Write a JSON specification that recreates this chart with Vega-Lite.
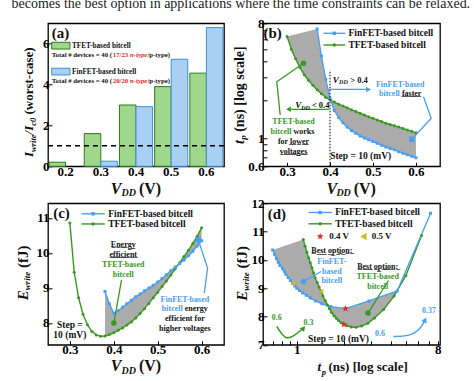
{
  "$schema": "https://vega.github.io/schema/vega-lite/v6.json",
  "background": "white",
  "padding": {"left": 10, "top": -3.7, "right": 0, "bottom": 4},
  "columns": 2,
  "spacing": {"row": 37, "column": 39},
  "bounds": "flush",
  "config": {
    "font": "Liberation Serif",
    "view": {"stroke": "#000", "strokeWidth": 1.3},
    "legend": {"disable": true},
    "axis": {"labelFont": "Liberation Serif", "labelFontSize": 13, "labelFontWeight": "bold", "labelColor": "#000", "tickColor": "#000", "tickSize": -4, "tickWidth": 1, "domain": false, "grid": false, "labelPadding": 3},
    "text": {"font": "Liberation Serif", "fontWeight": "bold"}
  },
  "datasets": {
    "bars": [
      {"V": "0.2", "cell": "TFET", "ratio": 0.2}, {"V": "0.3", "cell": "TFET", "ratio": 1.6}, {"V": "0.4", "cell": "TFET", "ratio": 3.0}, {"V": "0.5", "cell": "TFET", "ratio": 3.9}, {"V": "0.6", "cell": "TFET", "ratio": 4.56},
      {"V": "0.3", "cell": "FinFET", "ratio": 0.25}, {"V": "0.4", "cell": "FinFET", "ratio": 2.92}, {"V": "0.5", "cell": "FinFET", "ratio": 5.24}, {"V": "0.6", "cell": "FinFET", "ratio": 6.79}
    ],
    "cells": [
      {"cell": "TFET", "V": 0.3, "tp": 6.3, "E": 10.86}, {"cell": "TFET", "V": 0.31, "tp": 5.0, "E": 9.45}, {"cell": "TFET", "V": 0.32, "tp": 4.2, "E": 8.72}, {"cell": "TFET", "V": 0.33, "tp": 3.6, "E": 8.25}, {"cell": "TFET", "V": 0.34, "tp": 3.15, "E": 7.95}, {"cell": "TFET", "V": 0.35, "tp": 2.85, "E": 7.76}, {"cell": "TFET", "V": 0.36, "tp": 2.6, "E": 7.66}, {"cell": "TFET", "V": 0.37, "tp": 2.4, "E": 7.62}, {"cell": "TFET", "V": 0.38, "tp": 2.23, "E": 7.63}, {"cell": "TFET", "V": 0.39, "tp": 2.1, "E": 7.67}, {"cell": "TFET", "V": 0.4, "tp": 2.0, "E": 7.72},
      {"cell": "TFET", "V": 0.41, "tp": 1.92, "E": 7.79}, {"cell": "TFET", "V": 0.42, "tp": 1.85, "E": 7.86}, {"cell": "TFET", "V": 0.43, "tp": 1.79, "E": 7.94}, {"cell": "TFET", "V": 0.44, "tp": 1.73, "E": 8.03}, {"cell": "TFET", "V": 0.45, "tp": 1.67, "E": 8.14}, {"cell": "TFET", "V": 0.46, "tp": 1.62, "E": 8.27}, {"cell": "TFET", "V": 0.47, "tp": 1.57, "E": 8.41}, {"cell": "TFET", "V": 0.48, "tp": 1.52, "E": 8.56}, {"cell": "TFET", "V": 0.49, "tp": 1.47, "E": 8.72}, {"cell": "TFET", "V": 0.5, "tp": 1.43, "E": 8.88},
      {"cell": "TFET", "V": 0.51, "tp": 1.39, "E": 9.04}, {"cell": "TFET", "V": 0.52, "tp": 1.35, "E": 9.2}, {"cell": "TFET", "V": 0.53, "tp": 1.31, "E": 9.37}, {"cell": "TFET", "V": 0.54, "tp": 1.28, "E": 9.55}, {"cell": "TFET", "V": 0.55, "tp": 1.25, "E": 9.72}, {"cell": "TFET", "V": 0.56, "tp": 1.22, "E": 9.9}, {"cell": "TFET", "V": 0.57, "tp": 1.19, "E": 10.08}, {"cell": "TFET", "V": 0.58, "tp": 1.16, "E": 10.27}, {"cell": "TFET", "V": 0.59, "tp": 1.13, "E": 10.48}, {"cell": "TFET", "V": 0.6, "tp": 1.1, "E": 10.72},
      {"cell": "FinFET", "V": 0.37, "tp": 7.2, "E": 11.65}, {"cell": "FinFET", "V": 0.38, "tp": 4.4, "E": 8.9}, {"cell": "FinFET", "V": 0.39, "tp": 2.9, "E": 8.55}, {"cell": "FinFET", "V": 0.4, "tp": 2.05, "E": 8.28}, {"cell": "FinFET", "V": 0.41, "tp": 1.65, "E": 8.35}, {"cell": "FinFET", "V": 0.42, "tp": 1.45, "E": 8.45}, {"cell": "FinFET", "V": 0.43, "tp": 1.32, "E": 8.55}, {"cell": "FinFET", "V": 0.44, "tp": 1.22, "E": 8.65}, {"cell": "FinFET", "V": 0.45, "tp": 1.15, "E": 8.75}, {"cell": "FinFET", "V": 0.46, "tp": 1.09, "E": 8.83},
      {"cell": "FinFET", "V": 0.47, "tp": 1.04, "E": 8.92}, {"cell": "FinFET", "V": 0.48, "tp": 1.0, "E": 9.0}, {"cell": "FinFET", "V": 0.49, "tp": 0.97, "E": 9.08}, {"cell": "FinFET", "V": 0.5, "tp": 0.94, "E": 9.17}, {"cell": "FinFET", "V": 0.51, "tp": 0.91, "E": 9.27}, {"cell": "FinFET", "V": 0.52, "tp": 0.88, "E": 9.38}, {"cell": "FinFET", "V": 0.53, "tp": 0.85, "E": 9.49}, {"cell": "FinFET", "V": 0.54, "tp": 0.83, "E": 9.6}, {"cell": "FinFET", "V": 0.55, "tp": 0.81, "E": 9.7}, {"cell": "FinFET", "V": 0.56, "tp": 0.78, "E": 9.8},
      {"cell": "FinFET", "V": 0.57, "tp": 0.76, "E": 9.92}, {"cell": "FinFET", "V": 0.58, "tp": 0.74, "E": 10.05}, {"cell": "FinFET", "V": 0.59, "tp": 0.72, "E": 10.2}, {"cell": "FinFET", "V": 0.6, "tp": 0.7, "E": 10.35}
    ],
    "ann_a": [
      {"t": "(a)", "x": 0.1605, "y": 6.51, "role": "panel", "tone": "note", "k": "l"},
      {"t": "TFET-based bitcell", "x": 0.2182, "y": 5.9, "role": "sm", "tone": "note", "k": "l"},
      {"t": "Total # devices = 40 (", "x": 0.1605, "y": 5.45, "role": "tiny", "tone": "note", "k": "l"},
      {"t": "17/23", "x": 0.3341, "y": 5.45, "role": "tiny", "tone": "red", "k": "l"},
      {"t": "n-type", "x": 0.383, "y": 5.45, "role": "tiny", "tone": "red", "k": "li"},
      {"t": "/p-type)", "x": 0.4324, "y": 5.45, "role": "tiny", "tone": "note", "k": "l"},
      {"t": "FinFET-based bitcell", "x": 0.2182, "y": 4.63, "role": "sm", "tone": "note", "k": "l"},
      {"t": "Total # devices = 40 (", "x": 0.1605, "y": 4.18, "role": "tiny", "tone": "note", "k": "l"},
      {"t": "20/20", "x": 0.3341, "y": 4.18, "role": "tiny", "tone": "red", "k": "l"},
      {"t": "n-type", "x": 0.383, "y": 4.18, "role": "tiny", "tone": "red", "k": "li"},
      {"t": "/p-type)", "x": 0.4324, "y": 4.18, "role": "tiny", "tone": "note", "k": "l"},
      {"t": "V", "x": 0.3284, "y": -1.087, "role": "ttl", "tone": "note", "k": "li"},
      {"t": "DD", "x": 0.3588, "y": -1.307, "role": "sub", "tone": "note", "k": "li"},
      {"t": "(V)", "x": 0.4082, "y": -1.087, "role": "ttl", "tone": "note", "k": "l"},
      {"t": "I", "x": 0.0946, "y": 0.455, "role": "ttlS", "tone": "note", "k": "ri"},
      {"t": "write", "x": 0.106, "y": 0.705, "role": "subS", "tone": "note", "k": "ri"},
      {"t": "/I", "x": 0.0946, "y": 1.561, "role": "ttlS", "tone": "note", "k": "ri"},
      {"t": "c0", "x": 0.106, "y": 1.987, "role": "subS", "tone": "note", "k": "ri"},
      {"t": "(worst-case)", "x": 0.0946, "y": 2.535, "role": "ttlS", "tone": "note", "k": "r"}
    ],
    "rects_a": [
      {"cell": "TFET", "x1": 0.1605, "x2": 0.2125, "y1": 6.07, "y2": 5.74},
      {"cell": "FinFET", "x1": 0.1605, "x2": 0.2125, "y1": 4.8, "y2": 4.47}
    ],
    "ann_b": [
      {"t": "(b)", "x": 0.2452, "y": 6.67, "role": "panel", "tone": "note", "k": "l"},
      {"t": "FinFET-based bitcell", "x": 0.443, "y": 6.67, "role": "leg", "tone": "note", "k": "l"},
      {"t": "TFET-based bitcell", "x": 0.443, "y": 5.4, "role": "leg", "tone": "note", "k": "l"},
      {"t": "V", "x": 0.4065, "y": 2.86, "role": "vd", "tone": "note", "k": "li"},
      {"t": "DD", "x": 0.4211, "y": 2.74, "role": "vdsub", "tone": "note", "k": "li"},
      {"t": "> 0.4", "x": 0.447, "y": 2.86, "role": "lab", "tone": "note", "k": "l"},
      {"t": "V", "x": 0.319, "y": 1.82, "role": "vd", "tone": "note", "k": "li"},
      {"t": "DD", "x": 0.3329, "y": 1.74, "role": "vdsub", "tone": "note", "k": "li"},
      {"t": "< 0.4", "x": 0.3578, "y": 1.82, "role": "lab", "tone": "note", "k": "l"},
      {"t": "TFET-based", "x": 0.315, "y": 1.345, "role": "note", "tone": "TFET", "k": "c"},
      {"t": "bitcell", "x": 0.2617, "y": 1.123, "role": "note", "tone": "TFET", "k": "l"},
      {"t": "works", "x": 0.315, "y": 1.123, "role": "note", "tone": "note", "k": "l"},
      {"t": "for l\u0332o\u0332w\u0332e\u0332r\u0332", "x": 0.315, "y": 0.937, "role": "note", "tone": "note", "k": "c"},
      {"t": "v\u0332o\u0332l\u0332t\u0332a\u0332g\u0332e\u0332s\u0332", "x": 0.315, "y": 0.782, "role": "note", "tone": "note", "k": "c"},
      {"t": "FinFET-based", "x": 0.5634, "y": 2.617, "role": "note", "tone": "FinFET", "k": "c"},
      {"t": "bitcell", "x": 0.514, "y": 2.21, "role": "note", "tone": "FinFET", "k": "l"},
      {"t": "f\u0332a\u0332s\u0332t\u0332e\u0332r\u0332", "x": 0.5673, "y": 2.21, "role": "note", "tone": "note", "k": "l"},
      {"t": "Step = 10 (mV)", "x": 0.4004, "y": 0.727, "role": "step", "tone": "note", "k": "l"},
      {"t": "V", "x": 0.392, "y": 0.4013, "role": "ttl", "tone": "note", "k": "li"},
      {"t": "DD", "x": 0.4148, "y": 0.3699, "role": "sub", "tone": "note", "k": "li"},
      {"t": "(V)", "x": 0.4552, "y": 0.4013, "role": "ttl", "tone": "note", "k": "l"},
      {"t": "t", "x": 0.1893, "y": 0.899, "role": "ttlM", "tone": "note", "k": "ri"},
      {"t": "p", "x": 0.1986, "y": 0.97, "role": "subM", "tone": "note", "k": "ri"},
      {"t": "(ns) [log scale]", "x": 0.1893, "y": 1.121, "role": "ttlM", "tone": "note", "k": "r"}
    ],
    "paths_b": [
      {"id": 1, "o": 1, "tone": "TFET", "x": 0.284, "y": 1.519}, {"id": 1, "o": 2, "tone": "TFET", "x": 0.2761, "y": 2.776}, {"id": 1, "o": 3, "tone": "TFET", "x": 0.3383, "y": 3.875},
      {"id": 2, "o": 1, "tone": "FinFET", "x": 0.6176, "y": 2.117}, {"id": 2, "o": 2, "tone": "FinFET", "x": 0.6355, "y": 1.431}, {"id": 2, "o": 3, "tone": "FinFET", "x": 0.5904, "y": 0.978},
      {"id": 3, "o": 1, "tone": "FinFET", "x": 0.3965, "y": 2.414}, {"id": 3, "o": 2, "tone": "FinFET", "x": 0.487, "y": 2.414},
      {"id": 4, "o": 1, "tone": "TFET", "x": 0.398, "y": 1.685}, {"id": 4, "o": 2, "tone": "TFET", "x": 0.307, "y": 1.685}
    ],
    "pts_b": [
      {"x": 0.3383, "y": 3.875, "tone": "TFET", "shp": "TFET"},
      {"x": 0.5904, "y": 0.978, "tone": "FinFET", "shp": "FinFET"},
      {"x": 0.4896, "y": 2.414, "tone": "FinFET", "shp": "right"},
      {"x": 0.3034, "y": 1.685, "tone": "TFET", "shp": "left"}
    ],
    "leg_b": [
      {"cell": "FinFET", "x1": 0.3847, "x2": 0.4353, "xm": 0.41, "y": 6.67},
      {"cell": "TFET", "x1": 0.3847, "x2": 0.4353, "xm": 0.41, "y": 5.4}
    ],
    "ann_c": [
      {"t": "(c)", "x": 0.2621, "y": 11.14, "role": "panel", "tone": "note", "k": "l"},
      {"t": "FinFET-based bitcell", "x": 0.3874, "y": 11.12, "role": "leg", "tone": "note", "k": "l"},
      {"t": "TFET-based bitcell", "x": 0.3874, "y": 10.83, "role": "leg", "tone": "note", "k": "l"},
      {"t": "E\u0332n\u0332e\u0332r\u0332g\u0332y\u0332", "x": 0.4216, "y": 10.234, "role": "note", "tone": "note", "k": "c"},
      {"t": "e\u0332f\u0332f\u0332i\u0332c\u0332i\u0332e\u0332n\u0332t\u0332", "x": 0.4216, "y": 9.949, "role": "note", "tone": "note", "k": "c"},
      {"t": "TFET-based", "x": 0.4216, "y": 9.663, "role": "note", "tone": "TFET", "k": "c"},
      {"t": "bitcell", "x": 0.4216, "y": 9.377, "role": "note", "tone": "TFET", "k": "c"},
      {"t": "FinFET-based", "x": 0.5619, "y": 8.663, "role": "note", "tone": "FinFET", "k": "c"},
      {"t": "bitcell", "x": 0.5095, "y": 8.397, "role": "note", "tone": "FinFET", "k": "l"},
      {"t": "energy", "x": 0.5617, "y": 8.397, "role": "note", "tone": "note", "k": "l"},
      {"t": "efficient for", "x": 0.5619, "y": 8.111, "role": "note", "tone": "note", "k": "c"},
      {"t": "higher voltages", "x": 0.5619, "y": 7.826, "role": "note", "tone": "note", "k": "c"},
      {"t": "Step =", "x": 0.3, "y": 7.949, "role": "step", "tone": "note", "k": "c"},
      {"t": "10 (mV)", "x": 0.3, "y": 7.643, "role": "step", "tone": "note", "k": "c"},
      {"t": "V", "x": 0.3934, "y": 6.777, "role": "ttl", "tone": "note", "k": "li"},
      {"t": "DD", "x": 0.4177, "y": 6.634, "role": "sub", "tone": "note", "k": "li"},
      {"t": "(V)", "x": 0.4574, "y": 6.777, "role": "ttl", "tone": "note", "k": "l"},
      {"t": "E", "x": 0.1945, "y": 8.649, "role": "ttlE", "tone": "note", "k": "ri"},
      {"t": "write", "x": 0.2036, "y": 8.934, "role": "subE", "tone": "note", "k": "ri"},
      {"t": "(fJ)", "x": 0.1945, "y": 9.569, "role": "ttlE", "tone": "note", "k": "r"}
    ],
    "paths_c": [
      {"id": 1, "o": 1, "tone": "TFET", "x": 0.4177, "y": 9.234}, {"id": 1, "o": 2, "tone": "TFET", "x": 0.4002, "y": 7.997},
      {"id": 2, "o": 1, "tone": "FinFET", "x": 0.5924, "y": 10.377}, {"id": 2, "o": 2, "tone": "FinFET", "x": 0.6136, "y": 9.569}, {"id": 2, "o": 3, "tone": "FinFET", "x": 0.6061, "y": 8.854}
    ],
    "pts_c": [
      {"x": 0.4002, "y": 7.997, "tone": "TFET", "shp": "TFET"},
      {"x": 0.5924, "y": 10.377, "tone": "FinFET", "shp": "FinFET"}
    ],
    "leg_c": [
      {"cell": "FinFET", "x1": 0.3266, "x2": 0.3797, "xm": 0.353, "y": 11.12},
      {"cell": "TFET", "x1": 0.3266, "x2": 0.3797, "xm": 0.353, "y": 10.83}
    ],
    "ann_d": [
      {"t": "(d)", "x": 0.6515, "y": 11.63, "role": "panel", "tone": "note", "k": "l"},
      {"t": "FinFET-based bitcell", "x": 1.761, "y": 11.675, "role": "leg", "tone": "note", "k": "l"},
      {"t": "TFET-based bitcell", "x": 1.761, "y": 11.276, "role": "leg", "tone": "note", "k": "l"},
      {"t": "0.4 V", "x": 1.612, "y": 10.827, "role": "vd", "tone": "note", "k": "l"},
      {"t": "0.5 V", "x": 3.018, "y": 10.827, "role": "vd", "tone": "note", "k": "l"},
      {"t": "B\u0332e\u0332s\u0332t\u0332 o\u0332p\u0332t\u0332i\u0332o\u0332n\u0332:\u0332", "x": 1.676, "y": 10.297, "role": "note", "tone": "note", "k": "c"},
      {"t": "FinFET-", "x": 1.676, "y": 9.943, "role": "note", "tone": "FinFET", "k": "c"},
      {"t": "based", "x": 1.676, "y": 9.59, "role": "note", "tone": "FinFET", "k": "c"},
      {"t": "bitcell", "x": 1.676, "y": 9.272, "role": "note", "tone": "FinFET", "k": "c"},
      {"t": "B\u0332e\u0332s\u0332t\u0332 o\u0332p\u0332t\u0332i\u0332o\u0332n\u0332:\u0332", "x": 3.298, "y": 9.746, "role": "note", "tone": "note", "k": "c"},
      {"t": "TFET-based", "x": 3.298, "y": 9.392, "role": "note", "tone": "TFET", "k": "c"},
      {"t": "bitcell", "x": 3.298, "y": 9.039, "role": "note", "tone": "TFET", "k": "c"},
      {"t": "0.6", "x": 0.744, "y": 7.943, "role": "note", "tone": "TFET", "k": "c"},
      {"t": "0.3", "x": 1.188, "y": 7.767, "role": "note", "tone": "TFET", "k": "c"},
      {"t": "0.6", "x": 3.417, "y": 7.389, "role": "note", "tone": "FinFET", "k": "c"},
      {"t": "0.37", "x": 7.04, "y": 8.201, "role": "note", "tone": "FinFET", "k": "c"},
      {"t": "Step = 10 (mV)", "x": 1.849, "y": 7.201, "role": "step", "tone": "note", "k": "c"},
      {"t": "t", "x": 1.356, "y": 6.233, "role": "ttlS", "tone": "note", "k": "li"},
      {"t": "p", "x": 1.444, "y": 6.046, "role": "subS", "tone": "note", "k": "li"},
      {"t": "(ns) [log scale]", "x": 1.595, "y": 6.233, "role": "ttlS", "tone": "note", "k": "l"},
      {"t": "E", "x": 0.442, "y": 8.555, "role": "ttlE", "tone": "note", "k": "ri"},
      {"t": "write", "x": 0.469, "y": 8.908, "role": "subE", "tone": "note", "k": "ri"},
      {"t": "(fJ)", "x": 0.442, "y": 9.693, "role": "ttlE", "tone": "note", "k": "r"}
    ],
    "paths_d": [
      {"id": 1, "o": 1, "tone": "FinFET", "x": 1.432, "y": 9.59}, {"id": 1, "o": 2, "tone": "FinFET", "x": 1.103, "y": 9.237},
      {"id": 2, "o": 1, "tone": "TFET", "x": 3.864, "y": 9.272}, {"id": 2, "o": 2, "tone": "TFET", "x": 2.858, "y": 8.12}
    ],
    "curves_d": [
      {"id": 3, "o": 1, "tone": "TFET", "x": 0.744, "y": 7.647}, {"id": 3, "o": 2, "tone": "TFET", "x": 0.842, "y": 7.177}, {"id": 3, "o": 3, "tone": "TFET", "x": 0.952, "y": 7.293}, {"id": 3, "o": 4, "tone": "TFET", "x": 1.103, "y": 7.59},
      {"id": 4, "o": 1, "tone": "FinFET", "x": 4.16, "y": 7.293}, {"id": 4, "o": 2, "tone": "FinFET", "x": 5.19, "y": 7.293}, {"id": 4, "o": 3, "tone": "FinFET", "x": 6.17, "y": 7.53}, {"id": 4, "o": 4, "tone": "FinFET", "x": 6.637, "y": 7.883}
    ],
    "pts_d": [
      {"x": 1.103, "y": 9.237, "tone": "FinFET", "shp": "TFET"},
      {"x": 2.858, "y": 8.12, "tone": "TFET", "shp": "TFET"}
    ],
    "leg_d": [
      {"cell": "FinFET", "x1": 1.188, "x2": 1.675, "xm": 1.41, "y": 11.675},
      {"cell": "TFET", "x1": 1.188, "x2": 1.675, "xm": 1.41, "y": 11.276}
    ],
    "keys_d": [
      {"x": 1.411, "y": 10.827, "tone": "red", "shp": "star"},
      {"x": 2.67, "y": 10.827, "tone": "olive", "shp": "tri"}
    ]
  },
  "concat": [
    {
      "width": 176, "height": 143,
      "resolve": {"scale": {"x": "independent"}},
      "layer": [
        {
          "data": {"name": "bars"},
          "mark": {"type": "bar", "strokeWidth": 1},
          "encoding": {
            "x": {"field": "V", "type": "nominal", "scale": {"domain": ["0.2", "0.3", "0.4", "0.5", "0.6"], "paddingInner": 0.06, "paddingOuter": 0.03}, "axis": {"title": null, "labelAngle": 0}},
            "xOffset": {"field": "cell", "type": "nominal", "scale": {"domain": ["TFET", "FinFET"]}},
            "y": {"field": "ratio", "type": "quantitative", "scale": {"domain": [0, 7], "nice": false}, "axis": {"title": null, "values": [0, 1, 2, 3, 4, 5, 6, 7], "labelExpr": "(datum.value % 2 == 0 || datum.value == 7) ? datum.label : ''"}},
            "fill": {"field": "cell", "type": "nominal", "scale": {"domain": ["FinFET", "TFET"], "range": ["#a9cff3", "#9fd78c"]}},
            "stroke": {"field": "cell", "type": "nominal", "scale": {"domain": ["FinFET", "TFET"], "range": ["#3f8fdc", "#2f7a1a"]}}
          }
        },
        {
          "data": {"values": [{}]},
          "mark": {"type": "rule", "strokeDash": [5, 4], "strokeWidth": 1.5, "color": "#000"},
          "encoding": {"y": {"datum": 1}}
        },
        {
          "data": {"values": [{"t": "becomes the best option in applications where the time constraints can be relaxed.", "x": 0.0463, "y": 7.748}]},
          "mark": {"type": "text", "align": "left", "baseline": "alphabetic", "fontWeight": "normal", "fontSize": 14, "color": "#222"},
          "encoding": {
            "x": {"field": "x", "type": "quantitative", "scale": {"domain": [0.15, 0.65]}, "axis": null},
            "y": {"field": "y", "type": "quantitative"},
            "text": {"field": "t"}
          }
        },
        {
          "data": {"name": "rects_a"},
          "mark": {"type": "rect", "strokeWidth": 1},
          "encoding": {
            "x": {"field": "x1", "type": "quantitative", "scale": {"domain": [0.15, 0.65]}, "axis": null},
            "x2": {"field": "x2"},
            "y": {"field": "y1", "type": "quantitative"},
            "y2": {"field": "y2"},
            "fill": {"field": "cell", "type": "nominal", "scale": {"domain": ["FinFET", "TFET"], "range": ["#a9cff3", "#9fd78c"]}},
            "stroke": {"field": "cell", "type": "nominal", "scale": {"domain": ["FinFET", "TFET"], "range": ["#3f8fdc", "#2f7a1a"]}}
          }
        },
        {
          "data": {"name": "ann_a"},
          "transform": [{"filter": "datum.k == 'l'"}],
          "mark": {"type": "text", "align": "left", "baseline": "middle", "fontWeight": "bold"},
          "encoding": {
            "x": {"field": "x", "type": "quantitative", "scale": {"domain": [0.15, 0.65]}, "axis": null},
            "y": {"field": "y", "type": "quantitative"},
            "text": {"field": "t"},
            "color": {"field": "tone", "type": "nominal", "scale": {"domain": ["FinFET", "TFET", "note", "red", "olive"], "range": ["#4aa0f0", "#38991f", "#111111", "#e3262b", "#c9bf1c"]}},
            "size": {"field": "role", "type": "nominal", "scale": {"type": "ordinal", "domain": ["panel", "leg", "note", "step", "ttl", "sub", "ttlM", "subM", "ttlS", "subS", "ttlE", "subE", "tiny", "sm", "vd", "vdsub", "lab"], "range": [15, 9.5, 8, 9.5, 16, 10, 14, 9, 13, 8.5, 15, 9, 6.8, 7.2, 9, 6, 8.5]}}
          }
        },
        {
          "data": {"name": "ann_a"},
          "transform": [{"filter": "datum.k == 'li'"}],
          "mark": {"type": "text", "align": "left", "baseline": "middle", "fontWeight": "bold", "fontStyle": "italic"},
          "encoding": {
            "x": {"field": "x", "type": "quantitative", "scale": {"domain": [0.15, 0.65]}, "axis": null},
            "y": {"field": "y", "type": "quantitative"},
            "text": {"field": "t"},
            "color": {"field": "tone", "type": "nominal", "scale": {"domain": ["FinFET", "TFET", "note", "red", "olive"], "range": ["#4aa0f0", "#38991f", "#111111", "#e3262b", "#c9bf1c"]}},
            "size": {"field": "role", "type": "nominal", "scale": {"type": "ordinal", "domain": ["panel", "leg", "note", "step", "ttl", "sub", "ttlM", "subM", "ttlS", "subS", "ttlE", "subE", "tiny", "sm", "vd", "vdsub", "lab"], "range": [15, 9.5, 8, 9.5, 16, 10, 14, 9, 13, 8.5, 15, 9, 6.8, 7.2, 9, 6, 8.5]}}
          }
        },
        {
          "data": {"name": "ann_a"},
          "transform": [{"filter": "datum.k == 'ri'"}],
          "mark": {"type": "text", "align": "left", "baseline": "middle", "fontWeight": "bold", "fontStyle": "italic", "angle": 270},
          "encoding": {
            "x": {"field": "x", "type": "quantitative", "scale": {"domain": [0.15, 0.65]}, "axis": null},
            "y": {"field": "y", "type": "quantitative"},
            "text": {"field": "t"},
            "color": {"field": "tone", "type": "nominal", "scale": {"domain": ["FinFET", "TFET", "note", "red", "olive"], "range": ["#4aa0f0", "#38991f", "#111111", "#e3262b", "#c9bf1c"]}},
            "size": {"field": "role", "type": "nominal", "scale": {"type": "ordinal", "domain": ["panel", "leg", "note", "step", "ttl", "sub", "ttlM", "subM", "ttlS", "subS", "ttlE", "subE", "tiny", "sm", "vd", "vdsub", "lab"], "range": [15, 9.5, 8, 9.5, 16, 10, 14, 9, 13, 8.5, 15, 9, 6.8, 7.2, 9, 6, 8.5]}}
          }
        },
        {
          "data": {"name": "ann_a"},
          "transform": [{"filter": "datum.k == 'r'"}],
          "mark": {"type": "text", "align": "left", "baseline": "middle", "fontWeight": "bold", "angle": 270},
          "encoding": {
            "x": {"field": "x", "type": "quantitative", "scale": {"domain": [0.15, 0.65]}, "axis": null},
            "y": {"field": "y", "type": "quantitative"},
            "text": {"field": "t"},
            "color": {"field": "tone", "type": "nominal", "scale": {"domain": ["FinFET", "TFET", "note", "red", "olive"], "range": ["#4aa0f0", "#38991f", "#111111", "#e3262b", "#c9bf1c"]}},
            "size": {"field": "role", "type": "nominal", "scale": {"type": "ordinal", "domain": ["panel", "leg", "note", "step", "ttl", "sub", "ttlM", "subM", "ttlS", "subS", "ttlE", "subE", "tiny", "sm", "vd", "vdsub", "lab"], "range": [15, 9.5, 8, 9.5, 16, 10, 14, 9, 13, 8.5, 15, 9, 6.8, 7.2, 9, 6, 8.5]}}
          }
        }
      ]
    },
    {
      "width": 177, "height": 143,
      "encoding": {
        "x": {"type": "quantitative", "scale": {"domain": [0.244, 0.656], "nice": false, "zero": false}, "axis": {"title": null, "values": [0.3, 0.4, 0.5, 0.6], "format": ".1f"}},
        "y": {"type": "quantitative", "scale": {"type": "log", "domain": [0.6, 8], "nice": false}, "axis": {"title": null, "values": [0.6, 0.7, 0.8, 0.9, 1, 2, 3, 4, 5, 6, 7, 8], "labelExpr": "(datum.value == 0.6 || datum.value == 1 || datum.value == 8) ? format(datum.value, '~g') : ''"}}
      },
      "layer": [
        {
          "data": {"name": "cells"},
          "transform": [{"calculate": "datum.cell == 'TFET' ? datum.V : 2 - datum.V", "as": "o"}],
          "mark": {"type": "line", "fill": "#ababab", "strokeOpacity": 0, "clip": true},
          "encoding": {"x": {"field": "V"}, "y": {"field": "tp"}, "order": {"field": "o"}}
        },
        {
          "data": {"name": "cells"},
          "mark": {"type": "line", "strokeWidth": 1.4, "clip": true},
          "encoding": {"x": {"field": "V"}, "y": {"field": "tp"}, "color": {"field": "cell", "type": "nominal", "scale": {"domain": ["FinFET", "TFET", "note", "red", "olive"], "range": ["#4aa0f0", "#38991f", "#111111", "#e3262b", "#c9bf1c"]}}}
        },
        {
          "data": {"name": "cells"},
          "mark": {"type": "point", "filled": true, "size": 9, "opacity": 1, "clip": true},
          "encoding": {"x": {"field": "V"}, "y": {"field": "tp"},
            "color": {"field": "cell", "type": "nominal", "scale": {"domain": ["FinFET", "TFET", "note", "red", "olive"], "range": ["#4aa0f0", "#38991f", "#111111", "#e3262b", "#c9bf1c"]}},
            "shape": {"field": "cell", "type": "nominal", "scale": {"domain": ["FinFET", "TFET", "right", "left", "up", "star", "tri"], "range": ["square", "circle", "triangle-right", "triangle-left", "triangle-up", "M0,-1L0.2245,-0.309L0.951,-0.309L0.363,0.118L0.588,0.809L0,0.382L-0.588,0.809L-0.363,0.118L-0.951,-0.309L-0.2245,-0.309Z", "triangle-left"]}}}
        },
        {
          "data": {"values": [{}]},
          "mark": {"type": "rule", "strokeDash": [1.5, 1.5], "strokeWidth": 1, "color": "#000"},
          "encoding": {"x": {"datum": 0.4}, "y": {"datum": 0.6}, "y2": {"datum": 3.43}}
        },
        {
          "data": {"name": "paths_b"},
          "mark": {"type": "line", "strokeWidth": 1.3},
          "encoding": {"x": {"field": "x"}, "y": {"field": "y"}, "detail": {"field": "id"}, "order": {"field": "o"},
            "color": {"field": "tone", "type": "nominal", "scale": {"domain": ["FinFET", "TFET", "note", "red", "olive"], "range": ["#4aa0f0", "#38991f", "#111111", "#e3262b", "#c9bf1c"]}}}
        },
        {
          "data": {"name": "pts_b"},
          "mark": {"type": "point", "filled": true, "size": 30, "opacity": 1},
          "encoding": {"x": {"field": "x"}, "y": {"field": "y"},
            "color": {"field": "tone", "type": "nominal", "scale": {"domain": ["FinFET", "TFET", "note", "red", "olive"], "range": ["#4aa0f0", "#38991f", "#111111", "#e3262b", "#c9bf1c"]}},
            "shape": {"field": "shp", "type": "nominal", "scale": {"domain": ["FinFET", "TFET", "right", "left", "up", "star", "tri"], "range": ["square", "circle", "triangle-right", "triangle-left", "triangle-up", "M0,-1L0.2245,-0.309L0.951,-0.309L0.363,0.118L0.588,0.809L0,0.382L-0.588,0.809L-0.363,0.118L-0.951,-0.309L-0.2245,-0.309Z", "triangle-left"]}}}
        },
        {
          "data": {"name": "leg_b"},
          "mark": {"type": "rule", "strokeWidth": 1.4},
          "encoding": {"x": {"field": "x1"}, "x2": {"field": "x2"}, "y": {"field": "y"},
            "color": {"field": "cell", "type": "nominal", "scale": {"domain": ["FinFET", "TFET", "note", "red", "olive"], "range": ["#4aa0f0", "#38991f", "#111111", "#e3262b", "#c9bf1c"]}}}
        },
        {
          "data": {"name": "leg_b"},
          "mark": {"type": "point", "filled": true, "size": 12, "opacity": 1},
          "encoding": {"x": {"field": "xm"}, "y": {"field": "y"},
            "color": {"field": "cell", "type": "nominal", "scale": {"domain": ["FinFET", "TFET", "note", "red", "olive"], "range": ["#4aa0f0", "#38991f", "#111111", "#e3262b", "#c9bf1c"]}},
            "shape": {"field": "cell", "type": "nominal", "scale": {"domain": ["FinFET", "TFET", "right", "left", "up", "star", "tri"], "range": ["square", "circle", "triangle-right", "triangle-left", "triangle-up", "M0,-1L0.2245,-0.309L0.951,-0.309L0.363,0.118L0.588,0.809L0,0.382L-0.588,0.809L-0.363,0.118L-0.951,-0.309L-0.2245,-0.309Z", "triangle-left"]}}}
        },
        {
          "data": {"name": "ann_b"},
          "transform": [{"filter": "datum.k == 'c'"}],
          "mark": {"type": "text", "align": "center", "baseline": "middle", "fontWeight": "bold"},
          "encoding": {"x": {"field": "x"}, "y": {"field": "y"}, "text": {"field": "t"},
            "color": {"field": "tone", "type": "nominal", "scale": {"domain": ["FinFET", "TFET", "note", "red", "olive"], "range": ["#4aa0f0", "#38991f", "#111111", "#e3262b", "#c9bf1c"]}},
            "size": {"field": "role", "type": "nominal", "scale": {"type": "ordinal", "domain": ["panel", "leg", "note", "step", "ttl", "sub", "ttlM", "subM", "ttlS", "subS", "ttlE", "subE", "tiny", "sm", "vd", "vdsub", "lab"], "range": [15, 9.5, 8, 9.5, 16, 10, 14, 9, 13, 8.5, 15, 9, 6.8, 7.2, 9, 6, 8.5]}}}
        },
        {
          "data": {"name": "ann_b"},
          "transform": [{"filter": "datum.k == 'l'"}],
          "mark": {"type": "text", "align": "left", "baseline": "middle", "fontWeight": "bold"},
          "encoding": {"x": {"field": "x"}, "y": {"field": "y"}, "text": {"field": "t"},
            "color": {"field": "tone", "type": "nominal", "scale": {"domain": ["FinFET", "TFET", "note", "red", "olive"], "range": ["#4aa0f0", "#38991f", "#111111", "#e3262b", "#c9bf1c"]}},
            "size": {"field": "role", "type": "nominal", "scale": {"type": "ordinal", "domain": ["panel", "leg", "note", "step", "ttl", "sub", "ttlM", "subM", "ttlS", "subS", "ttlE", "subE", "tiny", "sm", "vd", "vdsub", "lab"], "range": [15, 9.5, 8, 9.5, 16, 10, 14, 9, 13, 8.5, 15, 9, 6.8, 7.2, 9, 6, 8.5]}}}
        },
        {
          "data": {"name": "ann_b"},
          "transform": [{"filter": "datum.k == 'li'"}],
          "mark": {"type": "text", "align": "left", "baseline": "middle", "fontWeight": "bold", "fontStyle": "italic"},
          "encoding": {"x": {"field": "x"}, "y": {"field": "y"}, "text": {"field": "t"},
            "color": {"field": "tone", "type": "nominal", "scale": {"domain": ["FinFET", "TFET", "note", "red", "olive"], "range": ["#4aa0f0", "#38991f", "#111111", "#e3262b", "#c9bf1c"]}},
            "size": {"field": "role", "type": "nominal", "scale": {"type": "ordinal", "domain": ["panel", "leg", "note", "step", "ttl", "sub", "ttlM", "subM", "ttlS", "subS", "ttlE", "subE", "tiny", "sm", "vd", "vdsub", "lab"], "range": [15, 9.5, 8, 9.5, 16, 10, 14, 9, 13, 8.5, 15, 9, 6.8, 7.2, 9, 6, 8.5]}}}
        },
        {
          "data": {"name": "ann_b"},
          "transform": [{"filter": "datum.k == 'ri'"}],
          "mark": {"type": "text", "align": "left", "baseline": "middle", "fontWeight": "bold", "fontStyle": "italic", "angle": 270},
          "encoding": {"x": {"field": "x"}, "y": {"field": "y"}, "text": {"field": "t"},
            "color": {"field": "tone", "type": "nominal", "scale": {"domain": ["FinFET", "TFET", "note", "red", "olive"], "range": ["#4aa0f0", "#38991f", "#111111", "#e3262b", "#c9bf1c"]}},
            "size": {"field": "role", "type": "nominal", "scale": {"type": "ordinal", "domain": ["panel", "leg", "note", "step", "ttl", "sub", "ttlM", "subM", "ttlS", "subS", "ttlE", "subE", "tiny", "sm", "vd", "vdsub", "lab"], "range": [15, 9.5, 8, 9.5, 16, 10, 14, 9, 13, 8.5, 15, 9, 6.8, 7.2, 9, 6, 8.5]}}}
        },
        {
          "data": {"name": "ann_b"},
          "transform": [{"filter": "datum.k == 'r'"}],
          "mark": {"type": "text", "align": "left", "baseline": "middle", "fontWeight": "bold", "angle": 270},
          "encoding": {"x": {"field": "x"}, "y": {"field": "y"}, "text": {"field": "t"},
            "color": {"field": "tone", "type": "nominal", "scale": {"domain": ["FinFET", "TFET", "note", "red", "olive"], "range": ["#4aa0f0", "#38991f", "#111111", "#e3262b", "#c9bf1c"]}},
            "size": {"field": "role", "type": "nominal", "scale": {"type": "ordinal", "domain": ["panel", "leg", "note", "step", "ttl", "sub", "ttlM", "subM", "ttlS", "subS", "ttlE", "subE", "tiny", "sm", "vd", "vdsub", "lab"], "range": [15, 9.5, 8, 9.5, 16, 10, 14, 9, 13, 8.5, 15, 9, 6.8, 7.2, 9, 6, 8.5]}}}
        }
      ]
    },
    {
      "width": 176, "height": 141.5,
      "encoding": {
        "x": {"type": "quantitative", "scale": {"domain": [0.2503, 0.651], "nice": false, "zero": false}, "axis": {"title": null, "values": [0.3, 0.4, 0.5, 0.6], "format": ".1f"}},
        "y": {"type": "quantitative", "scale": {"domain": [7.377, 11.42], "nice": false, "zero": false}, "axis": {"title": null, "values": [8, 9, 10, 11]}}
      },
      "layer": [
        {
          "data": {"name": "cells"},
          "transform": [{"filter": "datum.V >= 0.375"}, {"calculate": "datum.cell == 'TFET' ? datum.V : 2 - datum.V", "as": "o"}],
          "mark": {"type": "line", "fill": "#ababab", "strokeOpacity": 0, "clip": true},
          "encoding": {"x": {"field": "V"}, "y": {"field": "E"}, "order": {"field": "o"}}
        },
        {
          "data": {"name": "cells"},
          "transform": [{"filter": "datum.cell == 'TFET' || datum.V >= 0.375"}],
          "mark": {"type": "line", "strokeWidth": 1.4, "clip": true},
          "encoding": {"x": {"field": "V"}, "y": {"field": "E"}, "color": {"field": "cell", "type": "nominal", "scale": {"domain": ["FinFET", "TFET", "note", "red", "olive"], "range": ["#4aa0f0", "#38991f", "#111111", "#e3262b", "#c9bf1c"]}}}
        },
        {
          "data": {"name": "cells"},
          "transform": [{"filter": "datum.cell == 'TFET' || datum.V >= 0.375"}],
          "mark": {"type": "point", "filled": true, "size": 9, "opacity": 1, "clip": true},
          "encoding": {"x": {"field": "V"}, "y": {"field": "E"},
            "color": {"field": "cell", "type": "nominal", "scale": {"domain": ["FinFET", "TFET", "note", "red", "olive"], "range": ["#4aa0f0", "#38991f", "#111111", "#e3262b", "#c9bf1c"]}},
            "shape": {"field": "cell", "type": "nominal", "scale": {"domain": ["FinFET", "TFET", "right", "left", "up", "star", "tri"], "range": ["square", "circle", "triangle-right", "triangle-left", "triangle-up", "M0,-1L0.2245,-0.309L0.951,-0.309L0.363,0.118L0.588,0.809L0,0.382L-0.588,0.809L-0.363,0.118L-0.951,-0.309L-0.2245,-0.309Z", "triangle-left"]}}}
        },
        {
          "data": {"name": "paths_c"},
          "mark": {"type": "line", "strokeWidth": 1.3},
          "encoding": {"x": {"field": "x"}, "y": {"field": "y"}, "detail": {"field": "id"}, "order": {"field": "o"},
            "color": {"field": "tone", "type": "nominal", "scale": {"domain": ["FinFET", "TFET", "note", "red", "olive"], "range": ["#4aa0f0", "#38991f", "#111111", "#e3262b", "#c9bf1c"]}}}
        },
        {
          "data": {"name": "pts_c"},
          "mark": {"type": "point", "filled": true, "size": 30, "opacity": 1},
          "encoding": {"x": {"field": "x"}, "y": {"field": "y"},
            "color": {"field": "tone", "type": "nominal", "scale": {"domain": ["FinFET", "TFET", "note", "red", "olive"], "range": ["#4aa0f0", "#38991f", "#111111", "#e3262b", "#c9bf1c"]}},
            "shape": {"field": "shp", "type": "nominal", "scale": {"domain": ["FinFET", "TFET", "right", "left", "up", "star", "tri"], "range": ["square", "circle", "triangle-right", "triangle-left", "triangle-up", "M0,-1L0.2245,-0.309L0.951,-0.309L0.363,0.118L0.588,0.809L0,0.382L-0.588,0.809L-0.363,0.118L-0.951,-0.309L-0.2245,-0.309Z", "triangle-left"]}}}
        },
        {
          "data": {"name": "leg_c"},
          "mark": {"type": "rule", "strokeWidth": 1.4},
          "encoding": {"x": {"field": "x1"}, "x2": {"field": "x2"}, "y": {"field": "y"},
            "color": {"field": "cell", "type": "nominal", "scale": {"domain": ["FinFET", "TFET", "note", "red", "olive"], "range": ["#4aa0f0", "#38991f", "#111111", "#e3262b", "#c9bf1c"]}}}
        },
        {
          "data": {"name": "leg_c"},
          "mark": {"type": "point", "filled": true, "size": 12, "opacity": 1},
          "encoding": {"x": {"field": "xm"}, "y": {"field": "y"},
            "color": {"field": "cell", "type": "nominal", "scale": {"domain": ["FinFET", "TFET", "note", "red", "olive"], "range": ["#4aa0f0", "#38991f", "#111111", "#e3262b", "#c9bf1c"]}},
            "shape": {"field": "cell", "type": "nominal", "scale": {"domain": ["FinFET", "TFET", "right", "left", "up", "star", "tri"], "range": ["square", "circle", "triangle-right", "triangle-left", "triangle-up", "M0,-1L0.2245,-0.309L0.951,-0.309L0.363,0.118L0.588,0.809L0,0.382L-0.588,0.809L-0.363,0.118L-0.951,-0.309L-0.2245,-0.309Z", "triangle-left"]}}}
        },
        {
          "data": {"name": "ann_c"},
          "transform": [{"filter": "datum.k == 'c'"}],
          "mark": {"type": "text", "align": "center", "baseline": "middle", "fontWeight": "bold"},
          "encoding": {"x": {"field": "x"}, "y": {"field": "y"}, "text": {"field": "t"},
            "color": {"field": "tone", "type": "nominal", "scale": {"domain": ["FinFET", "TFET", "note", "red", "olive"], "range": ["#4aa0f0", "#38991f", "#111111", "#e3262b", "#c9bf1c"]}},
            "size": {"field": "role", "type": "nominal", "scale": {"type": "ordinal", "domain": ["panel", "leg", "note", "step", "ttl", "sub", "ttlM", "subM", "ttlS", "subS", "ttlE", "subE", "tiny", "sm", "vd", "vdsub", "lab"], "range": [15, 9.5, 8, 9.5, 16, 10, 14, 9, 13, 8.5, 15, 9, 6.8, 7.2, 9, 6, 8.5]}}}
        },
        {
          "data": {"name": "ann_c"},
          "transform": [{"filter": "datum.k == 'l'"}],
          "mark": {"type": "text", "align": "left", "baseline": "middle", "fontWeight": "bold"},
          "encoding": {"x": {"field": "x"}, "y": {"field": "y"}, "text": {"field": "t"},
            "color": {"field": "tone", "type": "nominal", "scale": {"domain": ["FinFET", "TFET", "note", "red", "olive"], "range": ["#4aa0f0", "#38991f", "#111111", "#e3262b", "#c9bf1c"]}},
            "size": {"field": "role", "type": "nominal", "scale": {"type": "ordinal", "domain": ["panel", "leg", "note", "step", "ttl", "sub", "ttlM", "subM", "ttlS", "subS", "ttlE", "subE", "tiny", "sm", "vd", "vdsub", "lab"], "range": [15, 9.5, 8, 9.5, 16, 10, 14, 9, 13, 8.5, 15, 9, 6.8, 7.2, 9, 6, 8.5]}}}
        },
        {
          "data": {"name": "ann_c"},
          "transform": [{"filter": "datum.k == 'li'"}],
          "mark": {"type": "text", "align": "left", "baseline": "middle", "fontWeight": "bold", "fontStyle": "italic"},
          "encoding": {"x": {"field": "x"}, "y": {"field": "y"}, "text": {"field": "t"},
            "color": {"field": "tone", "type": "nominal", "scale": {"domain": ["FinFET", "TFET", "note", "red", "olive"], "range": ["#4aa0f0", "#38991f", "#111111", "#e3262b", "#c9bf1c"]}},
            "size": {"field": "role", "type": "nominal", "scale": {"type": "ordinal", "domain": ["panel", "leg", "note", "step", "ttl", "sub", "ttlM", "subM", "ttlS", "subS", "ttlE", "subE", "tiny", "sm", "vd", "vdsub", "lab"], "range": [15, 9.5, 8, 9.5, 16, 10, 14, 9, 13, 8.5, 15, 9, 6.8, 7.2, 9, 6, 8.5]}}}
        },
        {
          "data": {"name": "ann_c"},
          "transform": [{"filter": "datum.k == 'ri'"}],
          "mark": {"type": "text", "align": "left", "baseline": "middle", "fontWeight": "bold", "fontStyle": "italic", "angle": 270},
          "encoding": {"x": {"field": "x"}, "y": {"field": "y"}, "text": {"field": "t"},
            "color": {"field": "tone", "type": "nominal", "scale": {"domain": ["FinFET", "TFET", "note", "red", "olive"], "range": ["#4aa0f0", "#38991f", "#111111", "#e3262b", "#c9bf1c"]}},
            "size": {"field": "role", "type": "nominal", "scale": {"type": "ordinal", "domain": ["panel", "leg", "note", "step", "ttl", "sub", "ttlM", "subM", "ttlS", "subS", "ttlE", "subE", "tiny", "sm", "vd", "vdsub", "lab"], "range": [15, 9.5, 8, 9.5, 16, 10, 14, 9, 13, 8.5, 15, 9, 6.8, 7.2, 9, 6, 8.5]}}}
        },
        {
          "data": {"name": "ann_c"},
          "transform": [{"filter": "datum.k == 'r'"}],
          "mark": {"type": "text", "align": "left", "baseline": "middle", "fontWeight": "bold", "angle": 270},
          "encoding": {"x": {"field": "x"}, "y": {"field": "y"}, "text": {"field": "t"},
            "color": {"field": "tone", "type": "nominal", "scale": {"domain": ["FinFET", "TFET", "note", "red", "olive"], "range": ["#4aa0f0", "#38991f", "#111111", "#e3262b", "#c9bf1c"]}},
            "size": {"field": "role", "type": "nominal", "scale": {"type": "ordinal", "domain": ["panel", "leg", "note", "step", "ttl", "sub", "ttlM", "subM", "ttlS", "subS", "ttlE", "subE", "tiny", "sm", "vd", "vdsub", "lab"], "range": [15, 9.5, 8, 9.5, 16, 10, 14, 9, 13, 8.5, 15, 9, 6.8, 7.2, 9, 6, 8.5]}}}
        }
      ]
    },
    {
      "width": 177, "height": 141.5,
      "encoding": {
        "x": {"type": "quantitative", "scale": {"type": "log", "domain": [0.607, 8.27], "nice": false}, "axis": {"title": null, "values": [0.7, 0.8, 0.9, 1, 2, 3, 4, 5, 6, 7, 8], "labelExpr": "(datum.value == 1 || datum.value == 8) ? format(datum.value, '~g') : ''"}},
        "y": {"type": "quantitative", "scale": {"domain": [7, 12], "nice": false, "zero": false}, "axis": {"title": null, "values": [7, 8, 9, 10, 11, 12]}}
      },
      "layer": [
        {
          "data": {"name": "cells"},
          "transform": [{"filter": "(datum.cell == 'TFET' && datum.V >= 0.315) || (datum.cell == 'FinFET' && datum.V >= 0.375)"}, {"calculate": "datum.cell == 'TFET' ? datum.V : 2 - datum.V", "as": "o"}],
          "mark": {"type": "line", "fill": "#ababab", "strokeOpacity": 0, "clip": true},
          "encoding": {"x": {"field": "tp"}, "y": {"field": "E"}, "order": {"field": "o"}}
        },
        {
          "data": {"name": "cells"},
          "mark": {"type": "line", "strokeWidth": 1.4, "clip": true},
          "encoding": {"x": {"field": "tp"}, "y": {"field": "E"}, "order": {"field": "V"}, "color": {"field": "cell", "type": "nominal", "scale": {"domain": ["FinFET", "TFET", "note", "red", "olive"], "range": ["#4aa0f0", "#38991f", "#111111", "#e3262b", "#c9bf1c"]}}}
        },
        {
          "data": {"name": "cells"},
          "mark": {"type": "point", "filled": true, "size": 9, "opacity": 1, "clip": true},
          "encoding": {"x": {"field": "tp"}, "y": {"field": "E"},
            "color": {"field": "cell", "type": "nominal", "scale": {"domain": ["FinFET", "TFET", "note", "red", "olive"], "range": ["#4aa0f0", "#38991f", "#111111", "#e3262b", "#c9bf1c"]}},
            "shape": {"field": "cell", "type": "nominal", "scale": {"domain": ["FinFET", "TFET", "right", "left", "up", "star", "tri"], "range": ["square", "circle", "triangle-right", "triangle-left", "triangle-up", "M0,-1L0.2245,-0.309L0.951,-0.309L0.363,0.118L0.588,0.809L0,0.382L-0.588,0.809L-0.363,0.118L-0.951,-0.309L-0.2245,-0.309Z", "triangle-left"]}}}
        },
        {
          "data": {"name": "cells"},
          "transform": [{"filter": "datum.V == 0.4"}],
          "mark": {"type": "point", "filled": true, "size": 55, "opacity": 1, "color": "#e3262b", "shape": "M0,-1L0.2245,-0.309L0.951,-0.309L0.363,0.118L0.588,0.809L0,0.382L-0.588,0.809L-0.363,0.118L-0.951,-0.309L-0.2245,-0.309Z"},
          "encoding": {"x": {"field": "tp"}, "y": {"field": "E"}}
        },
        {
          "data": {"name": "cells"},
          "transform": [{"filter": "datum.V == 0.5"}],
          "mark": {"type": "point", "filled": true, "size": 30, "opacity": 1, "color": "#c9bf1c", "shape": "triangle-left"},
          "encoding": {"x": {"field": "tp"}, "y": {"field": "E"}}
        },
        {
          "data": {"name": "paths_d"},
          "mark": {"type": "line", "strokeWidth": 1.3},
          "encoding": {"x": {"field": "x"}, "y": {"field": "y"}, "detail": {"field": "id"}, "order": {"field": "o"},
            "color": {"field": "tone", "type": "nominal", "scale": {"domain": ["FinFET", "TFET", "note", "red", "olive"], "range": ["#4aa0f0", "#38991f", "#111111", "#e3262b", "#c9bf1c"]}}}
        },
        {
          "data": {"name": "curves_d"},
          "mark": {"type": "line", "strokeWidth": 1.5, "interpolate": "basis"},
          "encoding": {"x": {"field": "x"}, "y": {"field": "y"}, "detail": {"field": "id"}, "order": {"field": "o"},
            "color": {"field": "tone", "type": "nominal", "scale": {"domain": ["FinFET", "TFET", "note", "red", "olive"], "range": ["#4aa0f0", "#38991f", "#111111", "#e3262b", "#c9bf1c"]}}}
        },
        {
          "data": {"values": [{}]},
          "mark": {"type": "point", "filled": true, "size": 35, "opacity": 1, "shape": "triangle-up", "angle": 40, "color": "#38991f"},
          "encoding": {"x": {"datum": 1.103}, "y": {"datum": 7.59}}
        },
        {
          "data": {"values": [{}]},
          "mark": {"type": "point", "filled": true, "size": 35, "opacity": 1, "shape": "triangle-up", "angle": 25, "color": "#4aa0f0"},
          "encoding": {"x": {"datum": 6.637}, "y": {"datum": 7.883}}
        },
        {
          "data": {"name": "pts_d"},
          "mark": {"type": "point", "filled": true, "size": 30, "opacity": 1},
          "encoding": {"x": {"field": "x"}, "y": {"field": "y"},
            "color": {"field": "tone", "type": "nominal", "scale": {"domain": ["FinFET", "TFET", "note", "red", "olive"], "range": ["#4aa0f0", "#38991f", "#111111", "#e3262b", "#c9bf1c"]}},
            "shape": {"field": "shp", "type": "nominal", "scale": {"domain": ["FinFET", "TFET", "right", "left", "up", "star", "tri"], "range": ["square", "circle", "triangle-right", "triangle-left", "triangle-up", "M0,-1L0.2245,-0.309L0.951,-0.309L0.363,0.118L0.588,0.809L0,0.382L-0.588,0.809L-0.363,0.118L-0.951,-0.309L-0.2245,-0.309Z", "triangle-left"]}}}
        },
        {
          "data": {"name": "keys_d"},
          "mark": {"type": "point", "filled": true, "size": 55, "opacity": 1},
          "encoding": {"x": {"field": "x"}, "y": {"field": "y"},
            "color": {"field": "tone", "type": "nominal", "scale": {"domain": ["FinFET", "TFET", "note", "red", "olive"], "range": ["#4aa0f0", "#38991f", "#111111", "#e3262b", "#c9bf1c"]}},
            "shape": {"field": "shp", "type": "nominal", "scale": {"domain": ["FinFET", "TFET", "right", "left", "up", "star", "tri"], "range": ["square", "circle", "triangle-right", "triangle-left", "triangle-up", "M0,-1L0.2245,-0.309L0.951,-0.309L0.363,0.118L0.588,0.809L0,0.382L-0.588,0.809L-0.363,0.118L-0.951,-0.309L-0.2245,-0.309Z", "triangle-left"]}}}
        },
        {
          "data": {"name": "leg_d"},
          "mark": {"type": "rule", "strokeWidth": 1.4},
          "encoding": {"x": {"field": "x1"}, "x2": {"field": "x2"}, "y": {"field": "y"},
            "color": {"field": "cell", "type": "nominal", "scale": {"domain": ["FinFET", "TFET", "note", "red", "olive"], "range": ["#4aa0f0", "#38991f", "#111111", "#e3262b", "#c9bf1c"]}}}
        },
        {
          "data": {"name": "leg_d"},
          "mark": {"type": "point", "filled": true, "size": 12, "opacity": 1},
          "encoding": {"x": {"field": "xm"}, "y": {"field": "y"},
            "color": {"field": "cell", "type": "nominal", "scale": {"domain": ["FinFET", "TFET", "note", "red", "olive"], "range": ["#4aa0f0", "#38991f", "#111111", "#e3262b", "#c9bf1c"]}},
            "shape": {"field": "cell", "type": "nominal", "scale": {"domain": ["FinFET", "TFET", "right", "left", "up", "star", "tri"], "range": ["square", "circle", "triangle-right", "triangle-left", "triangle-up", "M0,-1L0.2245,-0.309L0.951,-0.309L0.363,0.118L0.588,0.809L0,0.382L-0.588,0.809L-0.363,0.118L-0.951,-0.309L-0.2245,-0.309Z", "triangle-left"]}}}
        },
        {
          "data": {"name": "ann_d"},
          "transform": [{"filter": "datum.k == 'c'"}],
          "mark": {"type": "text", "align": "center", "baseline": "middle", "fontWeight": "bold"},
          "encoding": {"x": {"field": "x"}, "y": {"field": "y"}, "text": {"field": "t"},
            "color": {"field": "tone", "type": "nominal", "scale": {"domain": ["FinFET", "TFET", "note", "red", "olive"], "range": ["#4aa0f0", "#38991f", "#111111", "#e3262b", "#c9bf1c"]}},
            "size": {"field": "role", "type": "nominal", "scale": {"type": "ordinal", "domain": ["panel", "leg", "note", "step", "ttl", "sub", "ttlM", "subM", "ttlS", "subS", "ttlE", "subE", "tiny", "sm", "vd", "vdsub", "lab"], "range": [15, 9.5, 8, 9.5, 16, 10, 14, 9, 13, 8.5, 15, 9, 6.8, 7.2, 9, 6, 8.5]}}}
        },
        {
          "data": {"name": "ann_d"},
          "transform": [{"filter": "datum.k == 'l'"}],
          "mark": {"type": "text", "align": "left", "baseline": "middle", "fontWeight": "bold"},
          "encoding": {"x": {"field": "x"}, "y": {"field": "y"}, "text": {"field": "t"},
            "color": {"field": "tone", "type": "nominal", "scale": {"domain": ["FinFET", "TFET", "note", "red", "olive"], "range": ["#4aa0f0", "#38991f", "#111111", "#e3262b", "#c9bf1c"]}},
            "size": {"field": "role", "type": "nominal", "scale": {"type": "ordinal", "domain": ["panel", "leg", "note", "step", "ttl", "sub", "ttlM", "subM", "ttlS", "subS", "ttlE", "subE", "tiny", "sm", "vd", "vdsub", "lab"], "range": [15, 9.5, 8, 9.5, 16, 10, 14, 9, 13, 8.5, 15, 9, 6.8, 7.2, 9, 6, 8.5]}}}
        },
        {
          "data": {"name": "ann_d"},
          "transform": [{"filter": "datum.k == 'li'"}],
          "mark": {"type": "text", "align": "left", "baseline": "middle", "fontWeight": "bold", "fontStyle": "italic"},
          "encoding": {"x": {"field": "x"}, "y": {"field": "y"}, "text": {"field": "t"},
            "color": {"field": "tone", "type": "nominal", "scale": {"domain": ["FinFET", "TFET", "note", "red", "olive"], "range": ["#4aa0f0", "#38991f", "#111111", "#e3262b", "#c9bf1c"]}},
            "size": {"field": "role", "type": "nominal", "scale": {"type": "ordinal", "domain": ["panel", "leg", "note", "step", "ttl", "sub", "ttlM", "subM", "ttlS", "subS", "ttlE", "subE", "tiny", "sm", "vd", "vdsub", "lab"], "range": [15, 9.5, 8, 9.5, 16, 10, 14, 9, 13, 8.5, 15, 9, 6.8, 7.2, 9, 6, 8.5]}}}
        },
        {
          "data": {"name": "ann_d"},
          "transform": [{"filter": "datum.k == 'ri'"}],
          "mark": {"type": "text", "align": "left", "baseline": "middle", "fontWeight": "bold", "fontStyle": "italic", "angle": 270},
          "encoding": {"x": {"field": "x"}, "y": {"field": "y"}, "text": {"field": "t"},
            "color": {"field": "tone", "type": "nominal", "scale": {"domain": ["FinFET", "TFET", "note", "red", "olive"], "range": ["#4aa0f0", "#38991f", "#111111", "#e3262b", "#c9bf1c"]}},
            "size": {"field": "role", "type": "nominal", "scale": {"type": "ordinal", "domain": ["panel", "leg", "note", "step", "ttl", "sub", "ttlM", "subM", "ttlS", "subS", "ttlE", "subE", "tiny", "sm", "vd", "vdsub", "lab"], "range": [15, 9.5, 8, 9.5, 16, 10, 14, 9, 13, 8.5, 15, 9, 6.8, 7.2, 9, 6, 8.5]}}}
        },
        {
          "data": {"name": "ann_d"},
          "transform": [{"filter": "datum.k == 'r'"}],
          "mark": {"type": "text", "align": "left", "baseline": "middle", "fontWeight": "bold", "angle": 270},
          "encoding": {"x": {"field": "x"}, "y": {"field": "y"}, "text": {"field": "t"},
            "color": {"field": "tone", "type": "nominal", "scale": {"domain": ["FinFET", "TFET", "note", "red", "olive"], "range": ["#4aa0f0", "#38991f", "#111111", "#e3262b", "#c9bf1c"]}},
            "size": {"field": "role", "type": "nominal", "scale": {"type": "ordinal", "domain": ["panel", "leg", "note", "step", "ttl", "sub", "ttlM", "subM", "ttlS", "subS", "ttlE", "subE", "tiny", "sm", "vd", "vdsub", "lab"], "range": [15, 9.5, 8, 9.5, 16, 10, 14, 9, 13, 8.5, 15, 9, 6.8, 7.2, 9, 6, 8.5]}}}
        }
      ]
    }
  ]
}
